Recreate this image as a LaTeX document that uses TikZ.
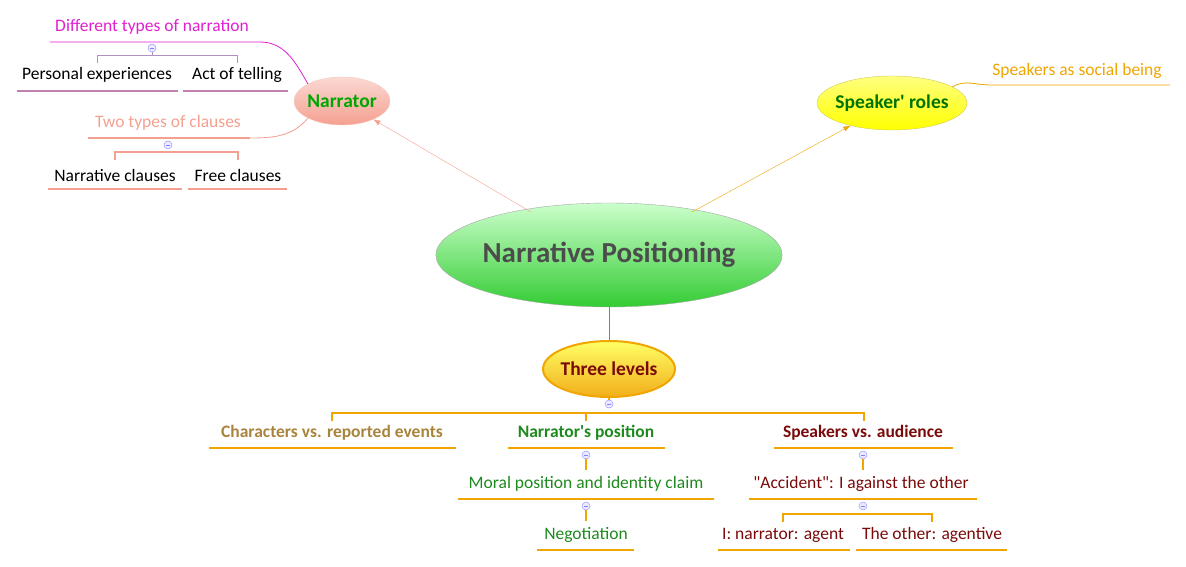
\documentclass[tikz,border=0pt]{standalone}
\usepackage{fontspec}
\setmainfont{Carlito}[Ligatures=TeXOff]
\usetikzlibrary{arrows.meta,shapes.geometric}
\definecolor{og}{HTML}{F0A500}
\definecolor{dred}{HTML}{7A0A0A}
\definecolor{dgreen}{HTML}{1E8A1E}
\definecolor{salm}{HTML}{F4A090}
\definecolor{mag}{HTML}{E020D0}
\definecolor{lav}{HTML}{B090C0}
\definecolor{pul}{HTML}{C080B0}
\definecolor{gold}{HTML}{A8843C}
\tikzset{
 x=1pt,y=-1pt,
 lbl/.style={inner sep=0pt,font=\fontsize{17.5}{17.5}\selectfont},
 blbl/.style={lbl,font=\fontsize{17.5}{17.5}\selectfont\bfseries},
 ul/.style={line width=2.5pt,og},
 mn/.style={circle,draw=blue!40,fill=blue!8,minimum size=8pt,inner sep=0pt,line width=0.5pt,
   path picture={\draw[blue!50,line width=0.6pt] ([xshift=-2pt]path picture bounding box.center)--([xshift=2pt]path picture bounding box.center);}},
 topic/.style={ellipse,inner sep=-4pt},
}
\begin{document}
\begin{tikzpicture}
\useasboundingbox (0,0) rectangle (1186,567);
% central
\node[topic,minimum width=346pt,minimum height=104pt,draw=gray!70,top color=green!20!white,bottom color=green!75!black!80,
  font=\fontsize{29}{29}\selectfont\bfseries,text=black!70] (np) at (609,255) {Narrative Positioning};
\node[topic,minimum width=96pt,minimum height=48pt,draw=salm!60,top color=salm!40,bottom color=salm,
  font=\fontsize{19.5}{19.5}\selectfont\bfseries,text=green!65!black] (nar) at (342,101) {Narrator};
\node[topic,minimum width=150pt,minimum height=54pt,draw=yellow!60!gray,top color=yellow!50,bottom color=yellow,
  font=\fontsize{19.5}{19.5}\selectfont\bfseries,text=green!45!black] (sp) at (892,103) {Speaker' roles};
\node[topic,minimum width=132pt,minimum height=56pt,draw=og,line width=2pt,top color=yellow!60,bottom color=og!90,
  font=\fontsize{19.5}{19.5}\selectfont\bfseries,text=dred] (tl) at (609,369) {Three levels};
\coordinate (npa) at (531,212); \coordinate (npb) at (692,212);
\draw[salm,-{Latex[length=7pt]}] (npa) -- (nar);
\draw[og,-{Latex[length=7pt]}] (npb) -- (sp);
\draw[gray,line width=0.6pt] (np.south) -- (tl.north);
% Speakers as social being
\node[lbl,text=og] (ss) at (1077,71) {Speakers as social being};
\coordinate (ssl) at (990,85); \coordinate (ssr) at (1170,85);
\draw[og,line width=0.8pt] (sp.15) to[out=30,in=180] (ssl) -- (ssr);
% Different types of narration
\node[lbl,text=mag] (dt) at (152,27) {Different types of narration};
\coordinate (dtl) at (50,42); \coordinate (dtr) at (260,42);
\draw[mag,line width=0.8pt] (dtl) -- (dtr) to[out=0,in=120] (nar.north west);
\node[mn] (m1) at (152,48) {};
\draw[lav,line width=0.8pt] (m1.south) -- (152,55);
\draw[lav,line width=0.8pt] (97,63) -- (97,55) -- (237,55) -- (237,63);
\node[lbl] (pe) at (97,75) {Personal experiences};
\node[lbl] (at) at (237,75) {Act of telling};
\draw[pul,line width=1.5pt] (17,91) -- (178,91);
\draw[pul,line width=1.5pt] (183,91) -- (288,91);
% Two types of clauses
\node[lbl,text=salm] (tc) at (168,123) {Two types of clauses};
\coordinate (tcl) at (88,138); \coordinate (tcr) at (250,138);
\draw[salm,line width=2pt] (tcl) -- (tcr);
\draw[salm,line width=0.8pt] (tcr) to[out=0,in=-130] (nar.south west);
\node[mn] (m2) at (168,145) {};
\draw[salm,line width=2pt] (115,160) -- (115,152) -- (238,152) -- (238,160);
\node[lbl] (nc) at (115,175) {Narrative clauses};
\node[lbl] (fc) at (238,175) {Free clauses};
\draw[salm,line width=2.5pt] (48,189) -- (182,189);
\draw[salm,line width=2.5pt] (188,189) -- (287,189);
% Three levels
\node[mn] (m3) at (609,404) {};
\draw[ul] (tl.south) -- (m3.north);
\draw[ul] (332,421) -- (332,413) -- (864,413) -- (864,421);
\draw[ul] (586,413) -- (586,421);
\node[blbl,text=gold] (ch) at (332,433) {Characters vs. reported events};
\node[blbl,text=dgreen] (npos) at (586,433) {Narrator's position};
\node[blbl,text=dred] (sva) at (863,433) {Speakers vs. audience};
\draw[ul] (209,448) -- (456,448);
\draw[ul] (508,448) -- (665,448);
\draw[ul] (774,448) -- (953,448);
% Narrator's position branch
\node[mn] (m4) at (586,455) {};
\draw[ul] (m4.south) -- (586,470);
\node[lbl,text=dgreen] (mp) at (586,484) {Moral position and identity claim};
\draw[ul] (458,499) -- (714,499);
\node[mn] (m5) at (586,506) {};
\draw[ul] (m5.south) -- (586,521);
\node[lbl,text=dgreen] (neg) at (586,535) {Negotiation};
\draw[ul] (537,550) -- (634,550);
% Speakers branch
\node[mn] (m6) at (863,455) {};
\draw[ul] (m6.south) -- (863,470);
\node[lbl,text=dred] (acc) at (861,484) {"Accident": I against the other};
\draw[ul] (749,499) -- (977,499);
\node[mn] (m7) at (863,506) {};
\draw[ul] (783,522) -- (783,514) -- (932,514) -- (932,522);
\node[lbl,text=dred] (ina) at (783,535) {I: narrator: agent};
\node[lbl,text=dred] (oth) at (932,535) {The other: agentive};
\draw[ul] (718,550) -- (850,550);
\draw[ul] (856,550) -- (1007,550);
\end{tikzpicture}
\end{document}
